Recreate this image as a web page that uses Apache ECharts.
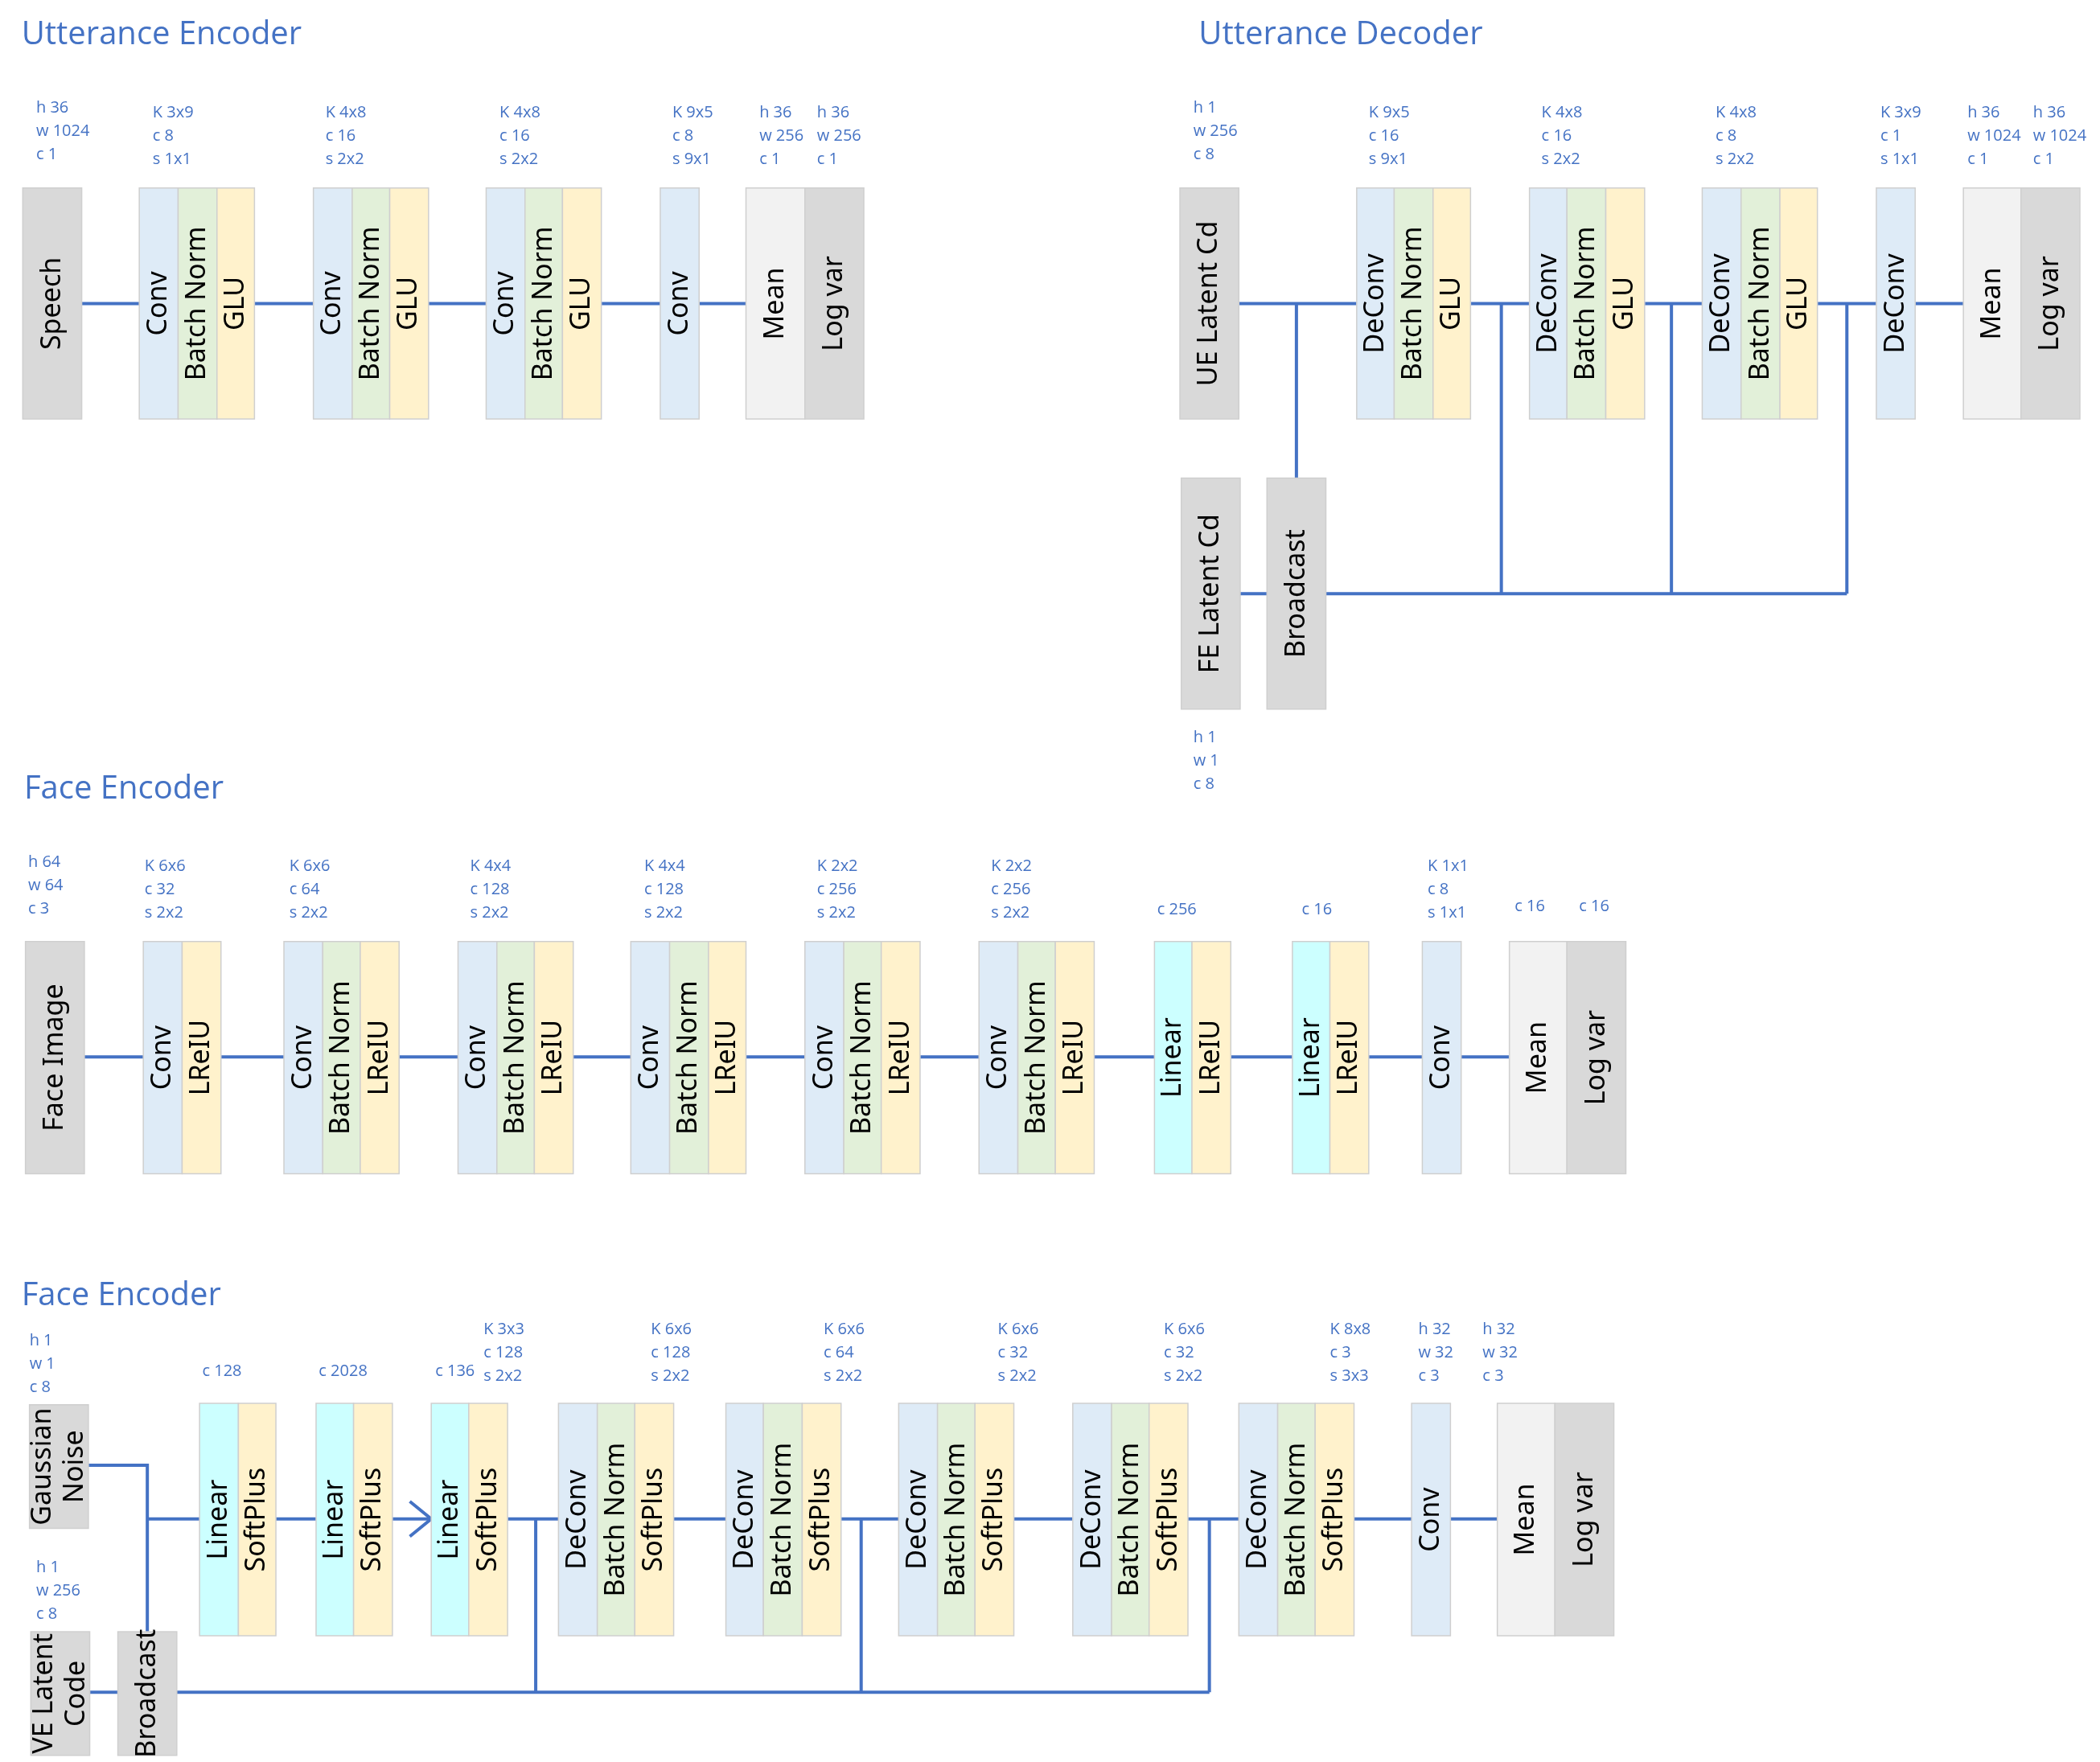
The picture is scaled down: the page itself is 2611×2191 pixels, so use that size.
<!doctype html>
<html>
<head>
<meta charset="utf-8">
<title>Network diagram</title>
<style>html,body{margin:0;padding:0;background:#fff}#main{width:2611px;height:2191px}</style>
</head>
<body>
<div id="main"></div>
<script src="https://cdn.jsdelivr.net/npm/echarts@6/dist/echarts.min.js"></script>
<script>
var chart = echarts.init(document.getElementById('main'));

// diagram units: reference at 1568 x 1312
var W = 1568, H = 1312;
var BLUE = '#4472c4';
var fills = {
    gray: '#d9d9d9', light: '#f2f2f2', conv: '#deebf7',
    bn: '#e2f0d9', act: '#fff2cc', lin: '#ccffff'
};

var titles = [
    [16, 26, 'Utterance Encoder'],
    [895, 26, 'Utterance Decoder'],
    [18, 588, 'Face Encoder'],
    [16, 965, 'Face Encoder']
];

// [x0, x1, y0, y1, kind, label]
var blocks = [
    // utterance encoder
    [17, 61, 140, 312, 'gray', 'Speech'],
    [104, 133, 140, 312, 'conv', 'Conv'], [133, 162, 140, 312, 'bn', 'Batch Norm'], [162, 190, 140, 312, 'act', 'GLU'],
    [234, 263, 140, 312, 'conv', 'Conv'], [263, 291, 140, 312, 'bn', 'Batch Norm'], [291, 320, 140, 312, 'act', 'GLU'],
    [363, 392, 140, 312, 'conv', 'Conv'], [392, 420, 140, 312, 'bn', 'Batch Norm'], [420, 449, 140, 312, 'act', 'GLU'],
    [493, 522, 140, 312, 'conv', 'Conv'],
    [557, 601, 140, 312, 'light', 'Mean'], [601, 645, 140, 312, 'gray', 'Log var'],
    // utterance decoder
    [881, 925, 140, 312, 'gray', 'UE Latent Cd'],
    [1013, 1041, 140, 312, 'conv', 'DeConv'], [1041, 1070, 140, 312, 'bn', 'Batch Norm'], [1070, 1098, 140, 312, 'act', 'GLU'],
    [1142, 1170, 140, 312, 'conv', 'DeConv'], [1170, 1199, 140, 312, 'bn', 'Batch Norm'], [1199, 1228, 140, 312, 'act', 'GLU'],
    [1271, 1300, 140, 312, 'conv', 'DeConv'], [1300, 1329, 140, 312, 'bn', 'Batch Norm'], [1329, 1357, 140, 312, 'act', 'GLU'],
    [1401, 1430, 140, 312, 'conv', 'DeConv'],
    [1466, 1509, 140, 312, 'light', 'Mean'], [1509, 1553, 140, 312, 'gray', 'Log var'],
    [882, 926, 356, 528, 'gray', 'FE Latent Cd'],
    [946, 990, 356, 528, 'gray', 'Broadcast'],
    // face encoder
    [19, 63, 701, 874, 'gray', 'Face Image'],
    [107, 136, 701, 874, 'conv', 'Conv'], [136, 165, 701, 874, 'act', 'LReIU'],
    [212, 241, 701, 874, 'conv', 'Conv'], [241, 269, 701, 874, 'bn', 'Batch Norm'], [269, 298, 701, 874, 'act', 'LReIU'],
    [342, 371, 701, 874, 'conv', 'Conv'], [371, 399, 701, 874, 'bn', 'Batch Norm'], [399, 428, 701, 874, 'act', 'LReIU'],
    [471, 500, 701, 874, 'conv', 'Conv'], [500, 529, 701, 874, 'bn', 'Batch Norm'], [529, 557, 701, 874, 'act', 'LReIU'],
    [601, 630, 701, 874, 'conv', 'Conv'], [630, 658, 701, 874, 'bn', 'Batch Norm'], [658, 687, 701, 874, 'act', 'LReIU'],
    [731, 760, 701, 874, 'conv', 'Conv'], [760, 788, 701, 874, 'bn', 'Batch Norm'], [788, 817, 701, 874, 'act', 'LReIU'],
    [862, 890, 701, 874, 'lin', 'Linear'], [890, 919, 701, 874, 'act', 'LReIU'],
    [965, 993, 701, 874, 'lin', 'Linear'], [993, 1022, 701, 874, 'act', 'LReIU'],
    [1062, 1091, 701, 874, 'conv', 'Conv'],
    [1127, 1170, 701, 874, 'light', 'Mean'], [1170, 1214, 701, 874, 'gray', 'Log var'],
    // face decoder
    [22, 66, 1046, 1138, 'gray', 'Gaussian\nNoise'],
    [23, 67, 1215, 1307, 'gray', 'VE Latent\nCode'],
    [88, 132, 1215, 1307, 'gray', 'Broadcast'],
    [149, 178, 1045, 1218, 'lin', 'Linear'], [178, 206, 1045, 1218, 'act', 'SoftPlus'],
    [236, 264, 1045, 1218, 'lin', 'Linear'], [264, 293, 1045, 1218, 'act', 'SoftPlus'],
    [322, 350, 1045, 1218, 'lin', 'Linear'], [350, 379, 1045, 1218, 'act', 'SoftPlus'],
    [417, 446, 1045, 1218, 'conv', 'DeConv'], [446, 474, 1045, 1218, 'bn', 'Batch Norm'], [474, 503, 1045, 1218, 'act', 'SoftPlus'],
    [542, 570, 1045, 1218, 'conv', 'DeConv'], [570, 599, 1045, 1218, 'bn', 'Batch Norm'], [599, 628, 1045, 1218, 'act', 'SoftPlus'],
    [671, 700, 1045, 1218, 'conv', 'DeConv'], [700, 728, 1045, 1218, 'bn', 'Batch Norm'], [728, 757, 1045, 1218, 'act', 'SoftPlus'],
    [801, 830, 1045, 1218, 'conv', 'DeConv'], [830, 858, 1045, 1218, 'bn', 'Batch Norm'], [858, 887, 1045, 1218, 'act', 'SoftPlus'],
    [925, 954, 1045, 1218, 'conv', 'DeConv'], [954, 982, 1045, 1218, 'bn', 'Batch Norm'], [982, 1011, 1045, 1218, 'act', 'SoftPlus'],
    [1054, 1083, 1045, 1218, 'conv', 'Conv'],
    [1118, 1161, 1045, 1218, 'light', 'Mean'], [1161, 1205, 1045, 1218, 'gray', 'Log var']
];

// connector polylines
var wires = [
    [[61, 226], [557, 226]],
    [[925, 226], [1466, 226]],
    [[926, 442], [946, 442]],
    [[968, 356], [968, 226]],
    [[990, 442], [1379, 442]],
    [[1121, 442], [1121, 226]],
    [[1248, 442], [1248, 226]],
    [[1379, 442], [1379, 226]],
    [[63, 787], [1127, 787]],
    [[66, 1091], [110, 1091], [110, 1215]],
    [[110, 1131], [1118, 1131]],
    [[306, 1118], [322, 1131], [306, 1144]],
    [[67, 1260], [88, 1260]],
    [[132, 1260], [903, 1260]],
    [[400, 1260], [400, 1131]],
    [[643, 1260], [643, 1131]],
    [[903, 1260], [903, 1131]]
];

// [x, top y, text]
var notes = [
    [27, 80, 'h 36\nw 1024\nc 1'], [114, 84, 'K 3x9\nc 8\ns 1x1'], [243, 84, 'K 4x8\nc 16\ns 2x2'],
    [373, 84, 'K 4x8\nc 16\ns 2x2'], [502, 84, 'K 9x5\nc 8\ns 9x1'], [567, 84, 'h 36\nw 256\nc 1'],
    [610, 84, 'h 36\nw 256\nc 1'],
    [891, 80, 'h 1\nw 256\nc 8'], [1022, 84, 'K 9x5\nc 16\ns 9x1'], [1151, 84, 'K 4x8\nc 16\ns 2x2'],
    [1281, 84, 'K 4x8\nc 8\ns 2x2'], [1404, 84, 'K 3x9\nc 1\ns 1x1'], [1469, 84, 'h 36\nw 1024\nc 1'],
    [1518, 84, 'h 36\nw 1024\nc 1'], [891, 549, 'h 1\nw 1\nc 8'],
    [21, 642, 'h 64\nw 64\nc 3'], [108, 645, 'K 6x6\nc 32\ns 2x2'], [216, 645, 'K 6x6\nc 64\ns 2x2'],
    [351, 645, 'K 4x4\nc 128\ns 2x2'], [481, 645, 'K 4x4\nc 128\ns 2x2'], [610, 645, 'K 2x2\nc 256\ns 2x2'],
    [740, 645, 'K 2x2\nc 256\ns 2x2'], [864, 677, 'c 256'], [972, 677, 'c 16'],
    [1066, 645, 'K 1x1\nc 8\ns 1x1'], [1131, 675, 'c 16'], [1179, 675, 'c 16'],
    [22, 998, 'h 1\nw 1\nc 8'], [27, 1167, 'h 1\nw 256\nc 8'], [151, 1021, 'c 128'], [238, 1021, 'c 2028'],
    [325, 1021, 'c 136'], [361, 990, 'K 3x3\nc 128\ns 2x2'], [486, 990, 'K 6x6\nc 128\ns 2x2'],
    [615, 990, 'K 6x6\nc 64\ns 2x2'], [745, 990, 'K 6x6\nc 32\ns 2x2'], [869, 990, 'K 6x6\nc 32\ns 2x2'],
    [993, 990, 'K 8x8\nc 3\ns 3x3'], [1059, 990, 'h 32\nw 32\nc 3'], [1107, 990, 'h 32\nw 32\nc 3']
];

function idx(a) { return a.map(function (_, i) { return [i]; }); }

chart.setOption({
    animation: false,
    backgroundColor: '#fff',
    grid: { left: 0, right: 0, top: 0, bottom: 0 },
    xAxis: { type: 'value', min: 0, max: W, show: false },
    yAxis: { type: 'value', min: 0, max: H, inverse: true, show: false },
    series: [{
        type: 'custom', z: 1, silent: true,
        data: idx(wires),
        renderItem: function (params, api) {
            var pts = wires[params.dataIndex].map(function (p) { return api.coord(p); });
            return { type: 'polyline', shape: { points: pts },
                style: { stroke: BLUE, lineWidth: 4, fill: null } };
        }
    }, {
        type: 'custom', z: 2, silent: true,
        data: idx(blocks),
        renderItem: function (params, api) {
            var b = blocks[params.dataIndex];
            var p0 = api.coord([b[0], b[2]]), p1 = api.coord([b[1], b[3]]);
            return { type: 'group', children: [{
                type: 'rect',
                shape: { x: p0[0], y: p0[1], width: p1[0] - p0[0], height: p1[1] - p0[1] },
                style: { fill: fills[b[4]], stroke: '#cfcfcf', lineWidth: 1.5 }
            }, {
                type: 'text',
                x: (p0[0] + p1[0]) / 2, y: (p0[1] + p1[1]) / 2,
                rotation: Math.PI / 2,
                style: { text: b[5], fill: '#000', fontSize: 34, fontFamily: 'Noto Sans',
                    align: 'center', verticalAlign: 'middle', lineHeight: 40 }
            }] };
        }
    }, {
        type: 'custom', z: 3, silent: true,
        data: idx(notes),
        renderItem: function (params, api) {
            var n = notes[params.dataIndex];
            var p = api.coord([n[0], n[1]]);
            return { type: 'text', x: p[0], y: p[1] - 14,
                style: { text: n[2], fill: BLUE, fontSize: 20, fontFamily: 'Liberation Sans Narrow, Open Sans',
                    lineHeight: 29, verticalAlign: 'top' } };
        }
    }, {
        type: 'custom', z: 3, silent: true,
        data: idx(titles),
        renderItem: function (params, api) {
            var t = titles[params.dataIndex];
            var p = api.coord([t[0], t[1]]);
            return { type: 'text', x: p[0], y: p[1],
                style: { text: t[2], fill: BLUE, fontSize: 40, fontFamily: 'Open Sans',
                    verticalAlign: 'middle' } };
        }
    }]
});

window.onresize = chart.resize;
</script>
</body>
</html>
